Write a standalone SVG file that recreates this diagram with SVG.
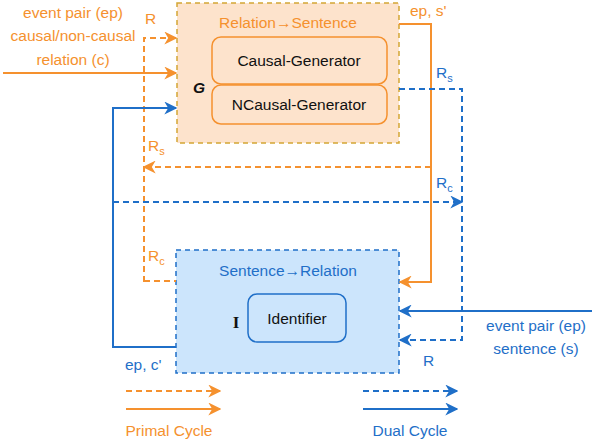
<svg xmlns="http://www.w3.org/2000/svg" width="592" height="440" viewBox="0 0 592 440">
<style>
text{font-family:"Liberation Sans",Arial,sans-serif;font-size:15.5px}
.o{fill:#f5912e}
.b{fill:#1f6fc8}
.k{fill:#111}
.so{stroke:#f5912e;stroke-width:2;fill:none}
.sb{stroke:#1f6fc8;stroke-width:2;fill:none}
.d{stroke-dasharray:6 4}
</style>
<defs>
<marker id="ao" viewBox="0 0 10 10" refX="9" refY="5" markerWidth="6.5" markerHeight="6.5" orient="auto" markerUnits="strokeWidth"><path d="M0,0 L10,5 L0,10 L3,5 z" fill="#f5912e"/></marker>
<marker id="ab" viewBox="0 0 10 10" refX="9" refY="5" markerWidth="6.5" markerHeight="6.5" orient="auto" markerUnits="strokeWidth"><path d="M0,0 L10,5 L0,10 L3,5 z" fill="#1f6fc8"/></marker>
</defs>
<g id="nodeG">
<rect x="177" y="3" width="222" height="140" fill="#fde3cc" stroke="#d4a634" stroke-width="1.5" stroke-dasharray="5 4"/>
<text x="288" y="28" text-anchor="middle" class="o">Relation→Sentence</text>
<text x="199" y="93" text-anchor="middle" class="k" font-weight="bold" font-style="italic">G</text>
</g>
<g id="causalGen">
<rect x="212" y="37" width="175" height="47" rx="9" fill="#fde3cc" stroke="#f5912e" stroke-width="1.5"/>
<text x="299" y="66" text-anchor="middle" class="k">Causal-Generator</text>
</g>
<g id="ncausalGen">
<rect x="212" y="85" width="175" height="39" rx="9" fill="#fde3cc" stroke="#f5912e" stroke-width="1.5"/>
<text x="299" y="110" text-anchor="middle" class="k">NCausal-Generator</text>
</g>
<g id="nodeI">
<rect x="176" y="250" width="223" height="123" fill="#cce5fc" stroke="#1f6fc8" stroke-width="1.5" stroke-dasharray="5 4"/>
<text x="288" y="276" text-anchor="middle" class="b">Sentence→Relation</text>
<text x="236" y="328" text-anchor="middle" class="k" font-weight="bold" style="font-family:'Liberation Serif',serif;font-size:17px">I</text>
</g>
<g id="identifier">
<rect x="248" y="294" width="98" height="48" rx="9" fill="#cce5fc" stroke="#1f6fc8" stroke-width="1.5"/>
<text x="297" y="324" text-anchor="middle" class="k">Identifier</text>
</g>
<g id="connectors">
<path class="so d" d="M144,282 V38 H176" marker-end="url(#ao)"/>
<path class="so" d="M3,73 H176" marker-end="url(#ao)"/>
<path class="sb" d="M176,347 H113 V108 H176" marker-end="url(#ab)"/>
<path class="so" d="M399,24 H431 V282 H400" marker-end="url(#ao)"/>
<path class="sb d" d="M399,89 H462 V340 H400" marker-end="url(#ab)"/>
<path class="so d" d="M431,167 H144" marker-end="url(#ao)"/>
<path class="sb d" d="M113,202 H462" marker-end="url(#ab)"/>
<path class="so d" d="M144,281 H176"/>
<path class="sb" d="M592,311 H400" marker-end="url(#ab)"/>
<path class="so d" d="M126,391 H220" marker-end="url(#ao)"/>
<path class="so" d="M126,409 H220" marker-end="url(#ao)"/>
<path class="sb d" d="M363,391 H457" marker-end="url(#ab)"/>
<path class="sb" d="M363,409 H457" marker-end="url(#ab)"/>
</g>
<g id="labels">
<text x="73" y="18" text-anchor="middle" class="o">event pair (ep)</text>
<text x="73" y="41" text-anchor="middle" class="o">causal/non-causal</text>
<text x="73" y="65" text-anchor="middle" class="o">relation (c)</text>
<text x="145" y="24" class="o">R</text>
<text x="410" y="16" class="o">ep, s'</text>
<text x="436" y="78" class="b">R<tspan font-size="11" dy="4">s</tspan></text>
<text x="148" y="151" class="o">R<tspan font-size="11" dy="4">s</tspan></text>
<text x="436" y="188" class="b">R<tspan font-size="11" dy="4">c</tspan></text>
<text x="148" y="261" class="o">R<tspan font-size="11" dy="4">c</tspan></text>
<text x="536" y="331" text-anchor="middle" class="b">event pair (ep)</text>
<text x="536" y="354" text-anchor="middle" class="b">sentence (s)</text>
<text x="423" y="366" class="b">R</text>
<text x="125" y="370" class="b">ep, c'</text>
<text x="169" y="436" text-anchor="middle" class="o">Primal Cycle</text>
<text x="410" y="436" text-anchor="middle" class="b">Dual Cycle</text>
</g>
</svg>
